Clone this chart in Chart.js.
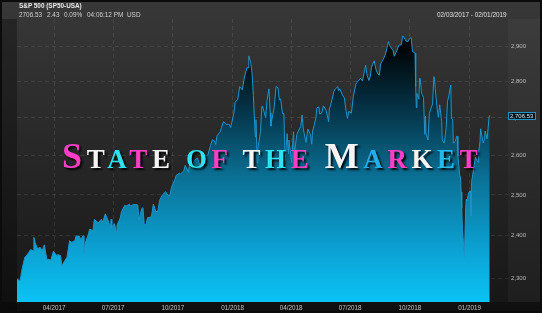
<!DOCTYPE html>
<html>
<head>
<meta charset="utf-8">
<script src="https://cdn.jsdelivr.net/npm/chart.js@4.4.1/dist/chart.umd.min.js"></script>
<style>
html, body { margin: 0; padding: 0; background: #141414; }
#wrap { position: relative; width: 542px; height: 313px; overflow: hidden; }
#chart { position: absolute; left: 0; top: 0; }
.hd { position: absolute; font-family: 'Liberation Sans', Arial, sans-serif; font-size: 6.4px; line-height: 7px; color: #d0d0d0; white-space: nowrap; }
#title { position: absolute; left: 62px; top: 138px; font-family: 'Liberation Serif', 'Times New Roman', serif; font-weight: bold; font-size: 27px; line-height: 36px; letter-spacing: 4.6px; white-space: nowrap; text-shadow: 2px 2px 2px rgba(0,0,0,0.9); }
#title .big { font-size: 36px; }
</style>
</head>
<body>
<div id="wrap">
  <canvas id="chart" width="542" height="313"></canvas>
  <div class="hd" style="left:19px;top:2px;font-weight:bold;color:#e8e8e8">S&amp;P 500 (SP50-USA)</div>
  <div class="hd" style="left:19px;top:11px">2706.53</div>
  <div class="hd" style="left:47px;top:11px">2.43</div>
  <div class="hd" style="left:64px;top:11px">0.09%</div>
  <div class="hd" style="left:87px;top:11px">04:06:12 PM</div>
  <div class="hd" style="left:127px;top:11px">USD</div>
  <div class="hd" style="left:437px;top:11px;color:#e0e0e0">02/03/2017 - 02/01/2019</div>
  <div id="title"><span class="big" style="color:#ff3ec8">S</span><span style="color:#f4f4f4">T</span><span style="color:#2fe2f0">A</span><span style="color:#ff3ec8">T</span><span style="color:#f4f4f4">E</span> <span style="color:#2fe2f0">O</span><span style="color:#ff3ec8">F</span> <span style="color:#f4f4f4">T</span><span style="color:#2fe2f0">H</span><span style="color:#ff3ec8">E</span> <span class="big" style="color:#f4f4f4">M</span><span style="color:#22aee8">A</span><span style="color:#ff3ec8">R</span><span style="color:#f4f4f4">K</span><span style="color:#22b8ec">E</span><span style="color:#ff3ec8">T</span></div>
</div>
<script>
// S&P 500 closes
const dates = [
  '2017-02-03','2017-02-08','2017-02-10','2017-02-15','2017-02-17','2017-02-22','2017-02-24','2017-02-28',
  '2017-03-01','2017-03-03','2017-03-07','2017-03-10','2017-03-14','2017-03-17','2017-03-21','2017-03-24','2017-03-27','2017-03-31',
  '2017-04-05','2017-04-07','2017-04-11','2017-04-13','2017-04-18','2017-04-21','2017-04-25','2017-04-28',
  '2017-05-03','2017-05-05','2017-05-10','2017-05-12','2017-05-16','2017-05-17','2017-05-19','2017-05-24','2017-05-26','2017-05-31',
  '2017-06-02','2017-06-07','2017-06-09','2017-06-13','2017-06-15','2017-06-19','2017-06-23','2017-06-27','2017-06-28','2017-06-29',
  '2017-07-03','2017-07-06','2017-07-07','2017-07-12','2017-07-14','2017-07-19','2017-07-21','2017-07-26','2017-07-28',
  '2017-08-01','2017-08-04','2017-08-08','2017-08-10','2017-08-14','2017-08-16','2017-08-18','2017-08-21','2017-08-23','2017-08-25','2017-08-29',
  '2017-09-01','2017-09-05','2017-09-08','2017-09-11','2017-09-15','2017-09-20','2017-09-22','2017-09-26','2017-09-29',
  '2017-10-04','2017-10-06','2017-10-11','2017-10-13','2017-10-18','2017-10-20','2017-10-25','2017-10-27',
  '2017-11-01','2017-11-03','2017-11-08','2017-11-10','2017-11-15','2017-11-17','2017-11-21','2017-11-24','2017-11-28',
  '2017-12-01','2017-12-04','2017-12-06','2017-12-08','2017-12-13','2017-12-15','2017-12-18','2017-12-21','2017-12-22','2017-12-27','2017-12-29',
  '2018-01-03','2018-01-05','2018-01-09','2018-01-12','2018-01-16','2018-01-19','2018-01-23','2018-01-25','2018-01-26','2018-01-29','2018-01-31',
  '2018-02-02','2018-02-05','2018-02-06','2018-02-08','2018-02-09','2018-02-13','2018-02-15','2018-02-16','2018-02-21','2018-02-23','2018-02-26','2018-02-28',
  '2018-03-01','2018-03-02','2018-03-06','2018-03-09','2018-03-12','2018-03-14','2018-03-16','2018-03-19','2018-03-21','2018-03-22','2018-03-23','2018-03-26','2018-03-28','2018-03-29',
  '2018-04-02','2018-04-04','2018-04-05','2018-04-06','2018-04-10','2018-04-12','2018-04-16','2018-04-18','2018-04-20','2018-04-24','2018-04-27',
  '2018-05-01','2018-05-03','2018-05-04','2018-05-09','2018-05-11','2018-05-14','2018-05-15','2018-05-18','2018-05-21','2018-05-25','2018-05-29','2018-05-30',
  '2018-06-01','2018-06-06','2018-06-08','2018-06-12','2018-06-13','2018-06-15','2018-06-19','2018-06-22','2018-06-25','2018-06-27','2018-06-29',
  '2018-07-03','2018-07-06','2018-07-10','2018-07-13','2018-07-17','2018-07-20','2018-07-25','2018-07-27','2018-07-30',
  '2018-08-01','2018-08-03','2018-08-07','2018-08-10','2018-08-13','2018-08-15','2018-08-17','2018-08-21','2018-08-24','2018-08-27','2018-08-29','2018-08-31',
  '2018-09-05','2018-09-07','2018-09-11','2018-09-14','2018-09-18','2018-09-20','2018-09-21','2018-09-25','2018-09-28',
  '2018-10-01','2018-10-03','2018-10-05','2018-10-09','2018-10-10','2018-10-11','2018-10-12','2018-10-15','2018-10-16','2018-10-17','2018-10-19','2018-10-22','2018-10-24','2018-10-25','2018-10-26','2018-10-29','2018-10-31',
  '2018-11-02','2018-11-05','2018-11-07','2018-11-08','2018-11-09','2018-11-12','2018-11-14','2018-11-16','2018-11-19','2018-11-20','2018-11-23','2018-11-26','2018-11-28','2018-11-30',
  '2018-12-03','2018-12-04','2018-12-06','2018-12-07','2018-12-10','2018-12-12','2018-12-13','2018-12-14','2018-12-17','2018-12-18','2018-12-19','2018-12-20','2018-12-21','2018-12-24','2018-12-26','2018-12-27','2018-12-28','2018-12-31',
  '2019-01-02','2019-01-03','2019-01-04','2019-01-08','2019-01-10','2019-01-14','2019-01-15','2019-01-17','2019-01-18','2019-01-22','2019-01-24','2019-01-25','2019-01-28','2019-01-30','2019-01-31','2019-02-01'
];
const closes = [
  2297,2295,2316,2349,2351,2362,2367,2364,
  2396,2383,2368,2373,2365,2378,2344,2344,2342,2363,
  2353,2355,2353,2329,2342,2349,2388,2384,
  2388,2399,2399,2391,2400,2357,2382,2404,2416,2412,
  2439,2433,2432,2440,2432,2453,2438,2419,2440,2419,
  2429,2410,2425,2443,2459,2474,2472,2477,2472,
  2476,2476,2475,2438,2466,2468,2426,2428,2444,2444,2446,
  2477,2458,2461,2488,2500,2508,2502,2497,2519,
  2538,2549,2555,2553,2561,2575,2557,2581,
  2579,2588,2594,2582,2565,2579,2599,2602,2627,
  2642,2639,2629,2652,2663,2675,2690,2685,2683,2683,2674,
  2713,2743,2751,2786,2777,2810,2839,2839,2873,2853,2824,
  2762,2649,2695,2581,2620,2663,2731,2732,2701,2747,2780,2714,
  2678,2691,2728,2786,2783,2749,2752,2712,2712,2643,2588,2658,2605,2641,
  2582,2644,2663,2604,2656,2664,2677,2708,2670,2635,2670,
  2655,2630,2663,2697,2728,2730,2711,2713,2733,2721,2690,2724,
  2735,2772,2779,2786,2775,2780,2763,2755,2717,2699,2718,
  2713,2760,2793,2801,2809,2802,2846,2819,2803,
  2814,2840,2859,2833,2821,2818,2850,2863,2875,2897,2914,2902,
  2889,2872,2888,2904,2905,2931,2930,2916,2914,
  2924,2926,2886,2881,2786,2728,2767,2751,2809,2809,2768,2756,2656,2705,2659,2641,2712,
  2723,2738,2814,2806,2781,2726,2702,2736,2690,2641,2633,2674,2744,2760,
  2790,2700,2695,2633,2637,2651,2651,2600,2546,2546,2507,2467,2417,2351,2468,2489,2486,2507,
  2510,2448,2532,2574,2596,2583,2610,2636,2671,2633,2643,2665,2644,2681,2704,2707
];
const startDate = '2017-02-03';
const endDay = 730;
const quarterDates = ['2017-04-01','2017-07-01','2017-10-01','2018-01-01','2018-04-01','2018-07-01','2018-10-01','2019-01-01'];
const quarterLabels = ['04/2017','07/2017','10/2017','01/2018','04/2018','07/2018','10/2018','01/2019'];
const yTicks = [2300, 2400, 2500, 2600, 2700, 2800, 2900];
const yMin = 2246, yMax = 2981;
const lastClose = 2706.53;

function dayOf(s) { return (Date.parse(s) - Date.parse(startDate)) / 86400000; }

const points = dates.map((d, i) => ({ x: dayOf(d), y: closes[i] }));

const backdrop = {
  id: 'backdrop',
  beforeDraw(chart) {
    const { ctx, width, height, chartArea: a } = chart;
    ctx.save();
    const g = ctx.createLinearGradient(0, 0, 0, height);
    g.addColorStop(0, '#383838');
    g.addColorStop(1, '#161616');
    ctx.fillStyle = g;
    ctx.fillRect(0, 0, width, height);
    ctx.fillStyle = 'rgba(0,0,0,0.3)';
    ctx.fillRect(0, a.top, a.left, height - a.top);
    ctx.fillRect(0, a.bottom, width, height - a.bottom);
    ctx.fillStyle = 'rgba(255,255,255,0.03)';
    ctx.fillRect(a.right + 17, a.top, width - a.right - 17, a.bottom - a.top);
    ctx.strokeStyle = '#0b0b0b';
    ctx.lineWidth = 2;
    ctx.strokeRect(1, 1, width - 2, height - 2);
    ctx.restore();
  }
};

const lastBox = {
  id: 'lastBox',
  afterDraw(chart) {
    const { ctx, chartArea: a } = chart;
    const y = Math.round(chart.scales.y.getPixelForValue(lastClose));
    const txt = lastClose.toLocaleString('en-US', { minimumFractionDigits: 2 });
    ctx.save();
    ctx.font = '6px "Liberation Sans", Arial, sans-serif';
    const w = Math.ceil(ctx.measureText(txt).width) + 3;
    const x = Math.round(a.right) + 17;
    ctx.fillStyle = '#0e1519';
    ctx.fillRect(x, y - 4, w, 8);
    ctx.strokeStyle = '#1c95cc';
    ctx.lineWidth = 1;
    ctx.strokeRect(x + 0.5, y - 3.5, w, 7);
    ctx.fillStyle = '#c4e8f6';
    ctx.textBaseline = 'middle';
    ctx.fillText(txt, x + 2, y + 0.5);
    ctx.restore();
  }
};

new Chart(document.getElementById('chart'), {
  type: 'line',
  data: {
    datasets: [{
      data: points,
      borderColor: '#1c95cc',
      borderWidth: 1,
      pointRadius: 0,
      tension: 0,
      fill: 'start',
      backgroundColor: ctx => {
        const a = ctx.chart.chartArea;
        if (!a) return 'transparent';
        const g = ctx.chart.ctx.createLinearGradient(0, a.top, 0, a.bottom);
        g.addColorStop(0, '#000000');
        g.addColorStop(0.12, '#01080c');
        g.addColorStop(0.35, '#053a50');
        g.addColorStop(0.55, '#0a6e92');
        g.addColorStop(0.8, '#0b9fd0');
        g.addColorStop(1, '#0bc3f5');
        return g;
      }
    }]
  },
  options: {
    responsive: false,
    animation: false,
    devicePixelRatio: 1,
    layout: { padding: { left: 17, top: 19, right: 0, bottom: 0 } },
    plugins: { legend: { display: false }, tooltip: { enabled: false } },
    scales: {
      x: {
        type: 'linear',
        min: 0,
        max: endDay,
        bounds: 'data',
        afterBuildTicks: s => { s.ticks = quarterDates.map(d => ({ value: dayOf(d) })); },
        afterFit: s => { s.height = 11; },
        ticks: {
          autoSkip: false, maxRotation: 0, padding: 2,
          color: '#c4c4c4',
          font: { family: "'Liberation Sans', Arial, sans-serif", size: 6.3 },
          callback: (v, i) => quarterLabels[i]
        },
        grid: { color: 'rgba(255,255,255,0.09)', drawTicks: false },
        border: { display: false, dash: [4, 3] }
      },
      y: {
        type: 'logarithmic',
        position: 'right',
        min: yMin,
        max: yMax,
        bounds: 'data',
        afterBuildTicks: s => { s.ticks = yTicks.map(v => ({ value: v })); },
        afterFit: s => { s.width = 51; },
        ticks: {
          padding: 3,
          color: '#bdbdbd',
          font: { family: "'Liberation Sans', Arial, sans-serif", size: 6 },
          callback: v => v.toLocaleString('en-US')
        },
        grid: { color: 'rgba(255,255,255,0.09)', tickLength: 17, tickBorderDash: [4, 3], tickColor: 'rgba(255,255,255,0.09)' },
        border: { display: false, dash: [4, 3] }
      }
    }
  },
  plugins: [backdrop, lastBox]
});
</script>
</body>
</html>
